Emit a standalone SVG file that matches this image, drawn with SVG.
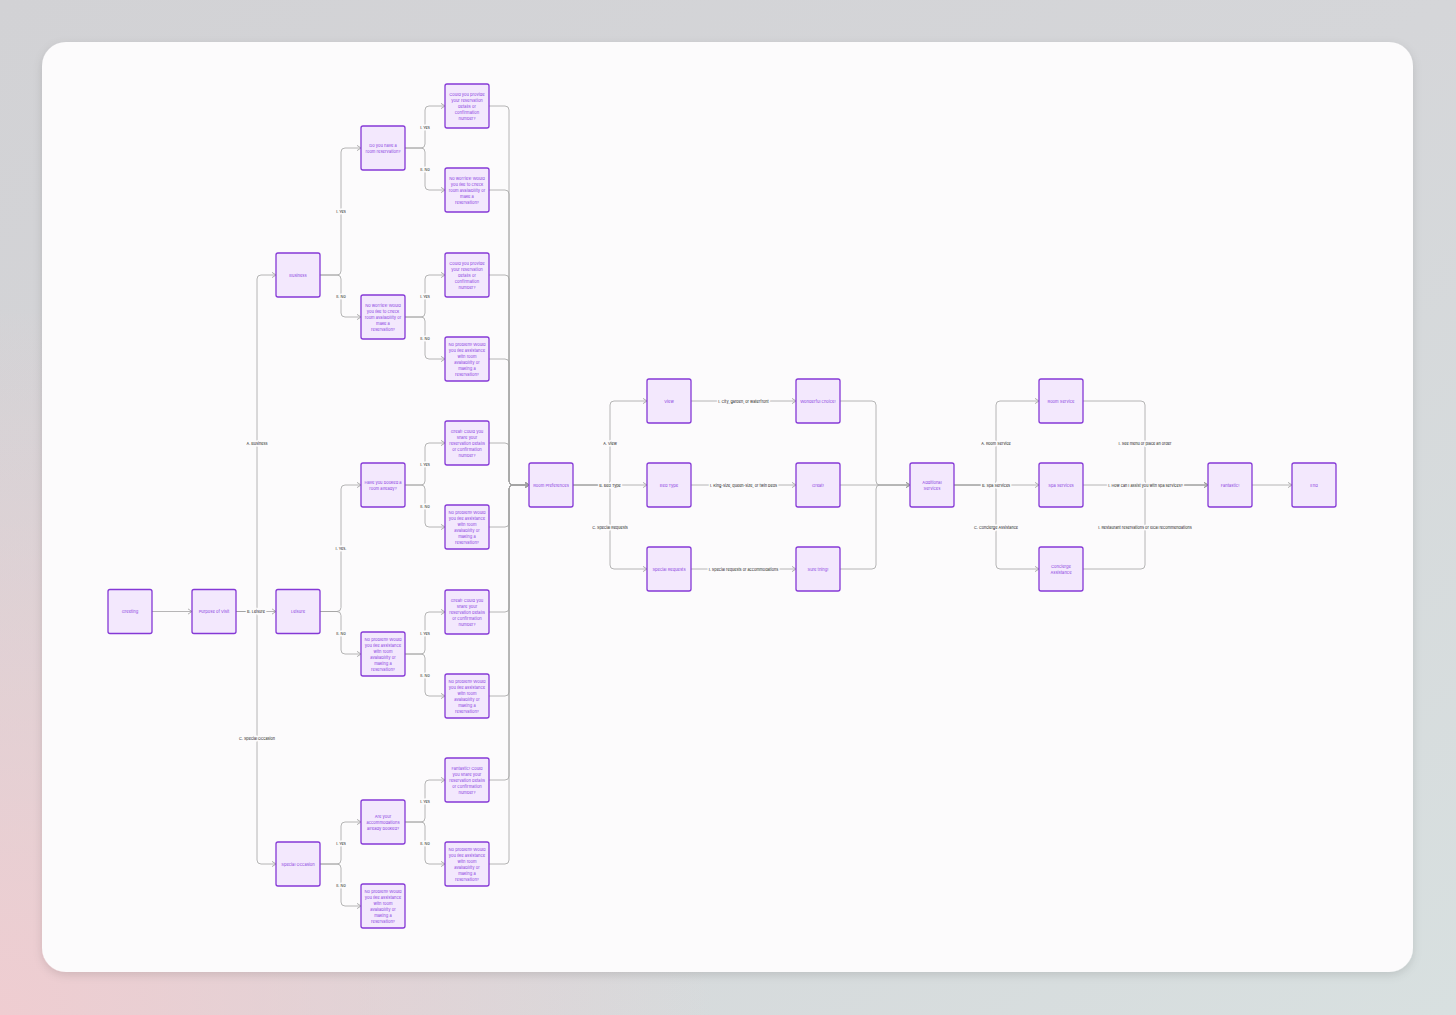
<svg xmlns="http://www.w3.org/2000/svg" width="1456" height="1015" viewBox="0 0 1456 1015">
<defs>
<linearGradient id="bg" x1="0" y1="0" x2="1" y2="1">
<stop offset="0" stop-color="#d2d2d5"/>
<stop offset="0.5" stop-color="#d5d6d9"/>
<stop offset="1" stop-color="#d8e0e0"/>
</linearGradient>
<radialGradient id="pink" cx="0" cy="1" r="0.7" gradientTransform="scale(0.7,1)">
<stop offset="0" stop-color="#efcdd1" stop-opacity="1"/>
<stop offset="1" stop-color="#efcdd1" stop-opacity="0"/>
</radialGradient>
<filter id="sh" x="-5%" y="-5%" width="110%" height="110%">
<feDropShadow dx="0" dy="3" stdDeviation="5" flood-color="#000" flood-opacity="0.12"/>
</filter>
<marker id="arr" markerWidth="6" markerHeight="8" refX="5" refY="4" orient="auto" markerUnits="userSpaceOnUse">
<path d="M1,1.4 L5,4 L1,6.6" fill="none" stroke="#9c9c9c" stroke-width="0.8"/>
</marker>
<style>
.n rect{fill:#f3e8fd;stroke:#8538d6;stroke-width:1.3}
.n text{font-family:Inter,"Liberation Sans",sans-serif;font-size:4.1px;fill:#8a3ee2;text-anchor:middle}
.e path{fill:none;stroke:#a3a3a3;stroke-width:0.8;marker-end:url(#arr)}
.l text{font-family:Inter,"Liberation Sans",sans-serif;font-size:3.8px;fill:#222;text-anchor:middle;stroke:#fcfbfc;stroke-width:3;stroke-linejoin:round;paint-order:stroke}
</style>
</defs>
<rect width="1456" height="1015" fill="url(#bg)"/>
<rect width="1456" height="1015" fill="url(#pink)"/>
<rect x="42" y="42" width="1371" height="930" rx="24" fill="#fcfbfc" filter="url(#sh)"/>

<g id="connectors" class="e">
<path d="M152,611.5 H192"/>
<path d="M236,611.5 H253 Q257,611.5 257,607.5 V279 Q257,275 261,275 H276"/>
<path d="M236,611.5 H276"/>
<path d="M236,611.5 H253 Q257,611.5 257,615.5 V860 Q257,864 261,864 H276"/>
<path d="M320,275 H337 Q341,275 341,271 V152 Q341,148 345,148 H361"/>
<path d="M320,275 H337 Q341,275 341,279 V313 Q341,317 345,317 H361"/>
<path d="M320,611.5 H337 Q341,611.5 341,607.5 V489 Q341,485 345,485 H361"/>
<path d="M320,611.5 H337 Q341,611.5 341,615.5 V650 Q341,654 345,654 H361"/>
<path d="M320,864 H337 Q341,864 341,860 V826 Q341,822 345,822 H361"/>
<path d="M320,864 H337 Q341,864 341,868 V902 Q341,906 345,906 H361"/>
<path d="M405,148 H421 Q425,148 425,144 V110 Q425,106 429,106 H445"/>
<path d="M405,148 H421 Q425,148 425,152 V186 Q425,190 429,190 H445"/>
<path d="M405,317 H421 Q425,317 425,313 V279 Q425,275 429,275 H445"/>
<path d="M405,317 H421 Q425,317 425,321 V355 Q425,359 429,359 H445"/>
<path d="M405,485 H421 Q425,485 425,481 V447 Q425,443 429,443 H445"/>
<path d="M405,485 H421 Q425,485 425,489 V523 Q425,527 429,527 H445"/>
<path d="M405,654 H421 Q425,654 425,650 V616 Q425,612 429,612 H445"/>
<path d="M405,654 H421 Q425,654 425,658 V692 Q425,696 429,696 H445"/>
<path d="M405,822 H421 Q425,822 425,818 V784 Q425,780 429,780 H445"/>
<path d="M405,822 H421 Q425,822 425,826 V860 Q425,864 429,864 H445"/>
<path d="M489,106 H505 Q509,106 509,110 V481 Q509,485 513,485 H529"/>
<path d="M489,190 H505 Q509,190 509,194 V481 Q509,485 513,485 H529"/>
<path d="M489,275 H505 Q509,275 509,279 V481 Q509,485 513,485 H529"/>
<path d="M489,359 H505 Q509,359 509,363 V481 Q509,485 513,485 H529"/>
<path d="M489,443 H505 Q509,443 509,447 V481 Q509,485 513,485 H529"/>
<path d="M489,527 H505 Q509,527 509,523 V489 Q509,485 513,485 H529"/>
<path d="M489,612 H505 Q509,612 509,608 V489 Q509,485 513,485 H529"/>
<path d="M489,696 H505 Q509,696 509,692 V489 Q509,485 513,485 H529"/>
<path d="M489,780 H505 Q509,780 509,776 V489 Q509,485 513,485 H529"/>
<path d="M489,864 H505 Q509,864 509,860 V489 Q509,485 513,485 H529"/>
<path d="M573,485 H606 Q610,485 610,481 V405 Q610,401 614,401 H647"/>
<path d="M573,485 H647"/>
<path d="M573,485 H606 Q610,485 610,489 V565 Q610,569 614,569 H647"/>
<path d="M691,401 H796"/>
<path d="M691,485 H796"/>
<path d="M691,569 H796"/>
<path d="M840,401 H872 Q876,401 876,405 V481 Q876,485 880,485 H910"/>
<path d="M840,485 H910"/>
<path d="M840,569 H872 Q876,569 876,565 V489 Q876,485 880,485 H910"/>
<path d="M954,485 H992 Q996,485 996,481 V405 Q996,401 1000,401 H1039"/>
<path d="M954,485 H1039"/>
<path d="M954,485 H992 Q996,485 996,489 V565 Q996,569 1000,569 H1039"/>
<path d="M1083,401 H1141 Q1145,401 1145,405 V481 Q1145,485 1149,485 H1208"/>
<path d="M1083,485 H1208"/>
<path d="M1083,569 H1141 Q1145,569 1145,565 V489 Q1145,485 1149,485 H1208"/>
<path d="M1252,485 H1292"/>
</g>

<g id="connector-labels" class="l">
<text x="257" y="444.5">A. Business</text>
<text x="256" y="613">B. Leisure</text>
<text x="257" y="739.5">C. Special Occasion</text>
<text x="341" y="213">I. Yes</text>
<text x="341" y="297.5">II. No</text>
<text x="341" y="549.5">I. Yes.</text>
<text x="341" y="634.5">II. No</text>
<text x="341" y="844.5">I. Yes</text>
<text x="341" y="886.5">II. No</text>
<text x="425" y="128.5">I. Yes</text>
<text x="425" y="170.5">II. No</text>
<text x="425" y="297.5">I. Yes</text>
<text x="425" y="339.5">II. No</text>
<text x="425" y="465.5">I. Yes</text>
<text x="425" y="507.5">II. No</text>
<text x="425" y="634.5">I. Yes</text>
<text x="425" y="676.5">II. No</text>
<text x="425" y="802.5">I. Yes</text>
<text x="425" y="844.5">II. No</text>
<text x="610" y="444.5">A. View</text>
<text x="610" y="486.5">B. Bed Type</text>
<text x="610" y="528.5">C. Special Requests</text>
<text x="743.5" y="402.5">I. City, garden, or waterfront</text>
<text x="743.5" y="486.5">I. King-size, queen-size, or twin beds</text>
<text x="743.5" y="570.5">I. Special requests or accommodations</text>
<text x="996" y="444.5">A. Room Service</text>
<text x="996" y="486.5">B. Spa Services</text>
<text x="996" y="528.5">C. Concierge Assistance</text>
<text x="1145" y="444.5">I. See menu or place an order</text>
<text x="1145.5" y="486.5">I. How can I assist you with spa services?</text>
<text x="1145" y="528.5">I. Restaurant reservations or local recommendations</text>
</g>

<g id="greeting" class="n"><rect x="108" y="589.5" width="44" height="44" rx="2"/><text x="130" y="613">Greeting</text></g>
<g id="purpose" class="n"><rect x="192" y="589.5" width="44" height="44" rx="2"/><text x="214" y="613">Purpose of Visit</text></g>
<g id="business" class="n"><rect x="276" y="253" width="44" height="44" rx="2"/><text x="298" y="276.5">Business</text></g>
<g id="leisure" class="n"><rect x="276" y="589.5" width="44" height="44" rx="2"/><text x="298" y="613">Leisure</text></g>
<g id="special-occasion" class="n"><rect x="276" y="842" width="44" height="44" rx="2"/><text x="298" y="865.5">Special Occasion</text></g>

<g id="business-q" class="n"><rect x="361" y="126" width="44" height="44" rx="2"/><text x="383" y="146.5">Do you have a<tspan x="383" dy="6">room reservation?</tspan></text></g>
<g id="business-no" class="n"><rect x="361" y="295" width="44" height="44" rx="2"/><text x="383" y="306.5">No worries! Would<tspan x="383" dy="6">you like to check</tspan><tspan x="383" dy="6">room availability or</tspan><tspan x="383" dy="6">make a</tspan><tspan x="383" dy="6">reservation?</tspan></text></g>
<g id="leisure-q" class="n"><rect x="361" y="463" width="44" height="44" rx="2"/><text x="383" y="483.5">Have you booked a<tspan x="383" dy="6">room already?</tspan></text></g>
<g id="leisure-no" class="n"><rect x="361" y="632" width="44" height="44" rx="2"/><text x="383" y="640.5">No problem! Would<tspan x="383" dy="6">you like assistance</tspan><tspan x="383" dy="6">with room</tspan><tspan x="383" dy="6">availability or</tspan><tspan x="383" dy="6">making a</tspan><tspan x="383" dy="6">reservation?</tspan></text></g>
<g id="special-q" class="n"><rect x="361" y="800" width="44" height="44" rx="2"/><text x="383" y="817.5">Are your<tspan x="383" dy="6">accommodations</tspan><tspan x="383" dy="6">already booked?</tspan></text></g>
<g id="special-no" class="n"><rect x="361" y="884" width="44" height="44" rx="2"/><text x="383" y="892.5">No problem! Would<tspan x="383" dy="6">you like assistance</tspan><tspan x="383" dy="6">with room</tspan><tspan x="383" dy="6">availability or</tspan><tspan x="383" dy="6">making a</tspan><tspan x="383" dy="6">reservation?</tspan></text></g>

<g id="c1" class="n"><rect x="445" y="84" width="44" height="44" rx="2"/><text x="467" y="95.5">Could you provide<tspan x="467" dy="6">your reservation</tspan><tspan x="467" dy="6">details or</tspan><tspan x="467" dy="6">confirmation</tspan><tspan x="467" dy="6">number?</tspan></text></g>
<g id="c2" class="n"><rect x="445" y="168" width="44" height="44" rx="2"/><text x="467" y="179.5">No worries! Would<tspan x="467" dy="6">you like to check</tspan><tspan x="467" dy="6">room availability or</tspan><tspan x="467" dy="6">make a</tspan><tspan x="467" dy="6">reservation?</tspan></text></g>
<g id="c3" class="n"><rect x="445" y="253" width="44" height="44" rx="2"/><text x="467" y="264.5">Could you provide<tspan x="467" dy="6">your reservation</tspan><tspan x="467" dy="6">details or</tspan><tspan x="467" dy="6">confirmation</tspan><tspan x="467" dy="6">number?</tspan></text></g>
<g id="c4" class="n"><rect x="445" y="337" width="44" height="44" rx="2"/><text x="467" y="345.5">No problem! Would<tspan x="467" dy="6">you like assistance</tspan><tspan x="467" dy="6">with room</tspan><tspan x="467" dy="6">availability or</tspan><tspan x="467" dy="6">making a</tspan><tspan x="467" dy="6">reservation?</tspan></text></g>
<g id="c5" class="n"><rect x="445" y="421" width="44" height="44" rx="2"/><text x="467" y="432.5">Great! Could you<tspan x="467" dy="6">share your</tspan><tspan x="467" dy="6">reservation details</tspan><tspan x="467" dy="6">or confirmation</tspan><tspan x="467" dy="6">number?</tspan></text></g>
<g id="c6" class="n"><rect x="445" y="505" width="44" height="44" rx="2"/><text x="467" y="513.5">No problem! Would<tspan x="467" dy="6">you like assistance</tspan><tspan x="467" dy="6">with room</tspan><tspan x="467" dy="6">availability or</tspan><tspan x="467" dy="6">making a</tspan><tspan x="467" dy="6">reservation?</tspan></text></g>
<g id="c7" class="n"><rect x="445" y="590" width="44" height="44" rx="2"/><text x="467" y="601.5">Great! Could you<tspan x="467" dy="6">share your</tspan><tspan x="467" dy="6">reservation details</tspan><tspan x="467" dy="6">or confirmation</tspan><tspan x="467" dy="6">number?</tspan></text></g>
<g id="c8" class="n"><rect x="445" y="674" width="44" height="44" rx="2"/><text x="467" y="682.5">No problem! Would<tspan x="467" dy="6">you like assistance</tspan><tspan x="467" dy="6">with room</tspan><tspan x="467" dy="6">availability or</tspan><tspan x="467" dy="6">making a</tspan><tspan x="467" dy="6">reservation?</tspan></text></g>
<g id="c9" class="n"><rect x="445" y="758" width="44" height="44" rx="2"/><text x="467" y="769.5">Fantastic! Could<tspan x="467" dy="6">you share your</tspan><tspan x="467" dy="6">reservation details</tspan><tspan x="467" dy="6">or confirmation</tspan><tspan x="467" dy="6">number?</tspan></text></g>
<g id="c10" class="n"><rect x="445" y="842" width="44" height="44" rx="2"/><text x="467" y="850.5">No problem! Would<tspan x="467" dy="6">you like assistance</tspan><tspan x="467" dy="6">with room</tspan><tspan x="467" dy="6">availability or</tspan><tspan x="467" dy="6">making a</tspan><tspan x="467" dy="6">reservation?</tspan></text></g>

<g id="room-preferences" class="n"><rect x="529" y="463" width="44" height="44" rx="2"/><text x="551" y="486.5">Room Preferences</text></g>
<g id="view" class="n"><rect x="647" y="379" width="44" height="44" rx="2"/><text x="669" y="402.5">View</text></g>
<g id="bed-type" class="n"><rect x="647" y="463" width="44" height="44" rx="2"/><text x="669" y="486.5">Bed Type</text></g>
<g id="special-requests" class="n"><rect x="647" y="547" width="44" height="44" rx="2"/><text x="669" y="570.5">Special Requests</text></g>
<g id="wonderful" class="n"><rect x="796" y="379" width="44" height="44" rx="2"/><text x="818" y="402.5">Wonderful choice!</text></g>
<g id="great" class="n"><rect x="796" y="463" width="44" height="44" rx="2"/><text x="818" y="486.5">Great!</text></g>
<g id="sure" class="n"><rect x="796" y="547" width="44" height="44" rx="2"/><text x="818" y="570.5">Sure thing!</text></g>
<g id="additional-services" class="n"><rect x="910" y="463" width="44" height="44" rx="2"/><text x="932" y="483.5">Additional<tspan x="932" dy="6">Services</tspan></text></g>
<g id="room-service" class="n"><rect x="1039" y="379" width="44" height="44" rx="2"/><text x="1061" y="402.5">Room Service</text></g>
<g id="spa-services" class="n"><rect x="1039" y="463" width="44" height="44" rx="2"/><text x="1061" y="486.5">Spa Services</text></g>
<g id="concierge" class="n"><rect x="1039" y="547" width="44" height="44" rx="2"/><text x="1061" y="567.5">Concierge<tspan x="1061" dy="6">Assistance</tspan></text></g>
<g id="fantastic" class="n"><rect x="1208" y="463" width="44" height="44" rx="2"/><text x="1230" y="486.5">Fantastic!</text></g>
<g id="end" class="n"><rect x="1292" y="463" width="44" height="44" rx="2"/><text x="1314" y="486.5">End</text></g>
</svg>
